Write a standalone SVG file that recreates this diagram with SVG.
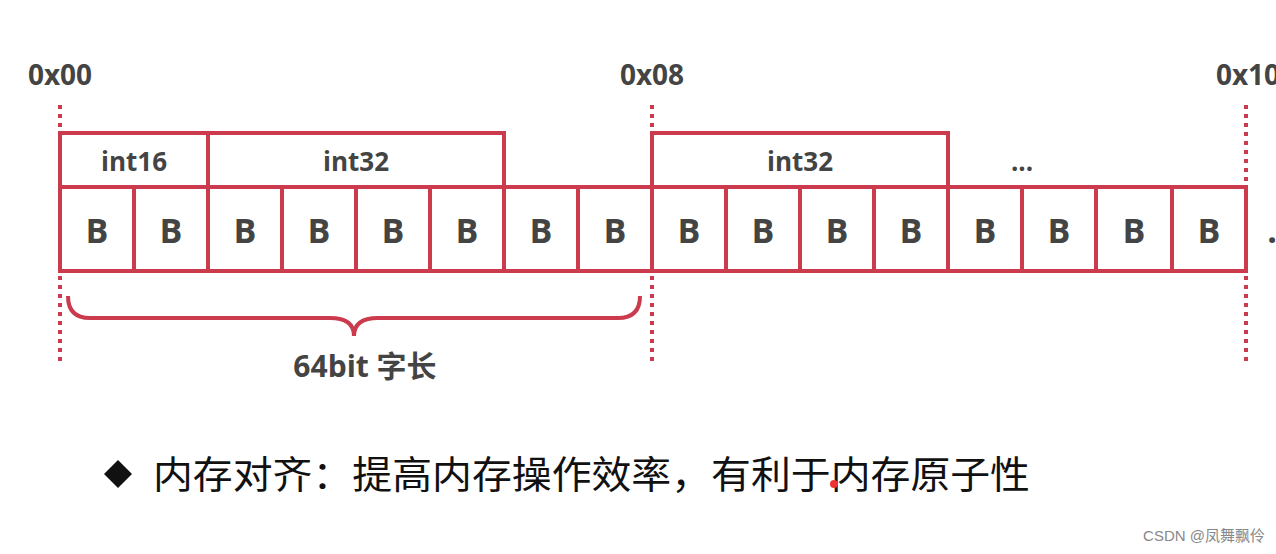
<svg xmlns="http://www.w3.org/2000/svg" width="1276" height="554" viewBox="0 0 1276 554">
<style>
.r{fill:none;stroke:#cc3a4d;stroke-width:4}
.d{fill:none;stroke:#cc3a4d;stroke-width:4;stroke-dasharray:4 5}
.t{font-family:"Open Sans","Noto Sans CJK SC",sans-serif;font-weight:bold;fill:#444;text-anchor:middle}
.b{font-size:34px}
.l{font-size:26px}
.a{font-size:28px}
.m{font-size:30px}
</style>
<rect width="1276" height="554" fill="#fff"/>
<g id="addresses">
<text class="t a" x="60" y="85">0x00</text>
<text class="t a" x="652" y="85">0x08</text>
<text class="t a" x="1248" y="85">0x10</text>
</g>
<g id="connectors">
<line class="d" x1="60" y1="105" x2="60" y2="362"/>
<line class="d" x1="652" y1="105" x2="652" y2="362"/>
<line class="d" x1="1246" y1="105" x2="1246" y2="362"/>
<path class="r" d="M68 296 Q68 318 90 318 L330 318 Q354 318 354 336 Q354 318 378 318 L618 318 Q640 318 640 296"/>
</g>
<g id="types">
<rect class="r" x="60" y="133" width="148" height="54"/>
<text class="t l" x="134" y="171">int16</text>
<rect class="r" x="208" y="133" width="296" height="54"/>
<text class="t l" x="356" y="171">int32</text>
<rect class="r" x="652" y="133" width="296" height="54"/>
<text class="t l" x="800" y="171">int32</text>
<text class="t l" x="1022" y="171">...</text>
</g>
<g id="bytes">
<rect class="r" x="60" y="187" width="1186" height="84"/>
<path class="r" d="M134 187V271M208 187V271M282 187V271M356 187V271M430 187V271M504 187V271M578 187V271M652 187V271M726 187V271M800 187V271M874 187V271M948 187V271M1022 187V271M1096 187V271M1172 187V271"/>
<g class="t b">
<text x="97" y="243">B</text><text x="171" y="243">B</text><text x="245" y="243">B</text><text x="319" y="243">B</text>
<text x="393" y="243">B</text><text x="467" y="243">B</text><text x="541" y="243">B</text><text x="615" y="243">B</text>
<text x="689" y="243">B</text><text x="763" y="243">B</text><text x="837" y="243">B</text><text x="911" y="243">B</text>
<text x="985" y="243">B</text><text x="1059" y="243">B</text><text x="1134" y="243">B</text><text x="1209" y="243">B</text>
</g>
<text class="t b" x="1272" y="243">.</text>
</g>
<g id="brace-label">
<text class="t m" x="365" y="377">64bit 字长</text>
</g>
<g id="note">
<path d="M118 460 L132 474 L118 488 L104 474Z" fill="#111"/>
<text x="153" y="488" font-family="'Noto Sans CJK SC',sans-serif" font-size="38" fill="#111" textLength="877" lengthAdjust="spacingAndGlyphs">内存对齐：提高内存操作效率，有利于内存原子性</text>
<circle cx="834" cy="484" r="4" fill="#e33"/>
</g>
<text x="1265" y="541" font-family="'Liberation Sans','Noto Sans CJK SC',sans-serif" font-size="15" fill="#888" text-anchor="end">CSDN @凤舞飘伶</text>
</svg>
